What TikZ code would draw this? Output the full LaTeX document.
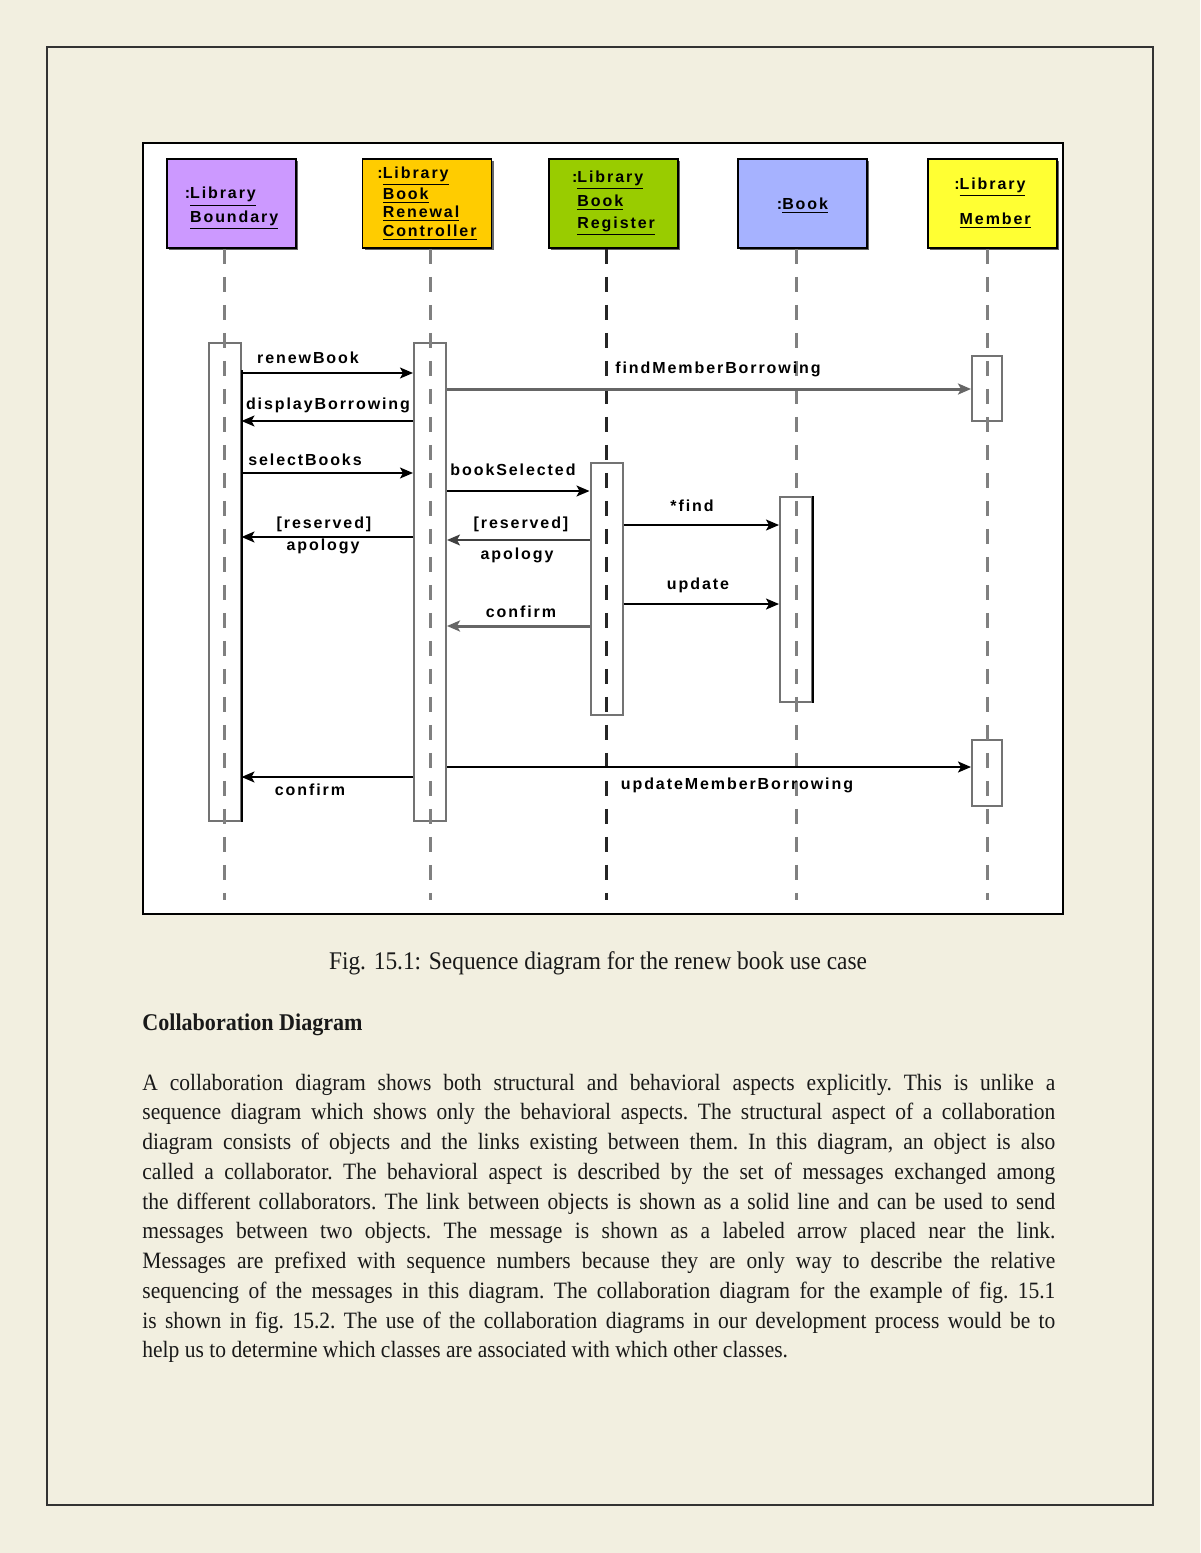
\documentclass[tikz,border=0pt]{standalone}
\usepackage{fontspec}
\setmainfont[FakeStretch=0.92]{Liberation Serif}
\newfontfamily\umlfont[LetterSpace=12]{Liberation Sans}
\usetikzlibrary{arrows.meta,shadows}

\definecolor{paper}{RGB}{242,239,224}
\definecolor{umlpurple}{RGB}{204,153,255}
\definecolor{umlgold}{RGB}{255,204,0}
\definecolor{umlgreen}{RGB}{153,204,0}
\definecolor{umlblue}{RGB}{166,178,255}
\definecolor{umlyellow}{RGB}{255,255,51}

\newcommand\fullline[1]{{\spaceskip=0pt\xspaceskip=0pt\makebox[456.5pt][s]{#1}}}

\tikzset{
  obj/.style={draw=black, line width=0.8pt, minimum width=64.5pt, minimum height=44.5pt,
    inner sep=0pt, align=left, font=\umlfont\bfseries\fontsize{8}{9.3}\selectfont,
    drop shadow={shadow xshift=1.2pt, shadow yshift=-1.2pt, fill=black, opacity=0.6}},
  act/.style={draw=black!55, line width=1pt, fill=white, minimum width=16pt, inner sep=0pt},
  life/.style={draw=black!50, line width=1.5pt, dash pattern=on 7.5pt off 6.5pt},
  msg/.style={-{Stealth[length=6.5pt,width=5.5pt,inset=1.5pt]}, line width=0.8pt},
  lbl/.style={font=\umlfont\bfseries\fontsize{8}{9}\selectfont, text=black, inner sep=0pt}
}

\begin{document}
\begin{tikzpicture}[x=0.5pt,y=-0.5pt]
  % page and frames
  \fill[paper] (0,0) rectangle (1200,1553);
  \draw[black!80, line width=0.8pt] (47,47) rectangle (1153,1505);
  \draw[fill=white, line width=1.2pt] (143,143) rectangle (1063,914);

  % objects
  \node[obj, fill=umlpurple] (oBnd) at (231.5,203.5)
    {\rule{0pt}{11pt}:\underline{Library}\\[1.4pt]\hphantom{:}\underline{Boundary}};
  \node[obj, fill=umlgold] (oCtl) at (427,203.5)
    {:\underline{Library}\\\hphantom{:}\underline{Book}\\\hphantom{:}\underline{Renewal}\\\hphantom{:}\underline{Controller}};
  \node[obj, fill=umlgreen] (oReg) at (613.5,203.5)
    {:\underline{Library}\\[1.6pt]\hphantom{:}\underline{Book}\\[1.6pt]\hphantom{:}\underline{Register}};
  \node[obj, fill=umlblue] (oBook) at (802.5,203.5) {\rule{0pt}{8.5pt}:\underline{Book}};
  \node[obj, fill=umlyellow] (oMem) at (992.5,203.5)
    {:\underline{Library}\\[7pt]\hphantom{:}\underline{Member}};

  % activations
  \node[act, minimum height=239pt] (aBnd) at (224.5,582) {};
  \node[act, minimum height=239pt] (aCtl) at (430,582) {};
  \node[act, minimum height=126pt] (aReg) at (606.5,589) {};
  \node[act, minimum height=102.5pt] (aBook) at (796,599.5) {};
  \node[act, minimum width=15pt, minimum height=32.5pt] (aMem1) at (987,388.5) {};
  \node[act, minimum width=15pt, minimum height=33pt] (aMem2) at (987,773) {};
  \draw[line width=1pt] (aBnd.east |- 0,370) -- (aBnd.south east);
  \draw[line width=1pt] (aBook.north east) -- (aBook.south east);

  % lifelines
  \coordinate (bot) at (0,900);
  \foreach \a/\o in {aBnd/oBnd, aCtl/oCtl, aBook/oBook, aMem1/oMem}
    \draw[life] (\a |- \o.south) -- (\a |- bot);
  \draw[life, draw=black!85, line width=1.3pt] (aReg |- oReg.south) -- (aReg |- bot);

  % y levels of the messages
  \foreach \n/\y in {renew/373, disp/421, sel/473, bsel/491, apo/537, apo2/540,
                     find/525, upd/604, conf/626, conf2/777, fmb/389, umb/767}
    \coordinate (y\n) at (0,\y);

  % messages
  \draw[msg] (aBnd.east |- yrenew) -- (aCtl.west |- yrenew);
  \draw[msg] (aCtl.west |- ydisp) -- (aBnd.east |- ydisp);
  \draw[msg] (aBnd.east |- ysel) -- (aCtl.west |- ysel);
  \draw[msg] (aCtl.east |- ybsel) -- (aReg.west |- ybsel);
  \draw[msg] (aCtl.west |- yapo) -- (aBnd.east |- yapo);
  \draw[msg, draw=black!75] (aReg.west |- yapo2) -- (aCtl.east |- yapo2);
  \draw[msg] (aReg.east |- yfind) -- (aBook.west |- yfind);
  \draw[msg] (aReg.east |- yupd) -- (aBook.west |- yupd);
  \draw[msg, draw=black!60, line width=1.5pt] (aReg.west |- yconf) -- (aCtl.east |- yconf);
  \draw[msg] (aCtl.west |- yconf2) -- (aBnd.east |- yconf2);
  \draw[msg, draw=black!60, line width=1.5pt] (aCtl.east |- yfmb) -- (aMem1.west |- yfmb);
  \draw[msg, line width=1.1pt] (aCtl.east |- yumb) -- (aMem2.west |- yumb);

  % message labels
  \node[lbl] (lRenew) at (308,358) {renewBook};
  \node[lbl] (lDisp) at (328,405) {displayBorrowing};
  \node[lbl] (lSel) at (305,460) {selectBooks};
  \node[lbl] (lBsel) at (513,470) {bookSelected};
  \node[lbl] (lRes) at (324,524) {[reserved]};
  \node[lbl] (lApo) at (323,546) {apology};
  \node[lbl] (lRes2) at (521,524) {[reserved]};
  \node[lbl] (lApo2) at (517,555) {apology};
  \node[lbl] (lFind) at (692,506) {*find};
  \node[lbl] (lUpd) at (698,585) {update};
  \node[lbl] (lConf) at (521,612) {confirm};
  \node[lbl] (lConf2) at (310,790) {confirm};
  \node[lbl] (lFmb) at (718,369) {findMemberBorrowing};
  \node[lbl] (lUmb) at (737,785) {updateMemberBorrowing};

  % caption and text
  \node[anchor=base, inner sep=0pt, font=\fontsize{12.7}{14}\selectfont, text=black!90] (cap) at (598,969)
    {Fig. 15.1: Sequence diagram for the renew book use case};
  \node[anchor=base west, inner sep=0pt, font=\bfseries\fontsize{12}{14}\selectfont, text=black!90] (head) at (142,1030)
    {Collaboration Diagram};
  \node[anchor=north west, inner sep=0pt, text width=456.5pt, align=justify, text=black!90,
        font=\frenchspacing\fontsize{11.7}{14.88}\selectfont] (para) at (142,1073.5) {%
    \fullline{A collaboration diagram shows both structural and behavioral aspects explicitly. This is unlike a}\\
    \fullline{sequence diagram which shows only the behavioral aspects. The structural aspect of a collaboration}\\
    \fullline{diagram consists of objects and the links existing between them. In this diagram, an object is also}\\
    \fullline{called a collaborator. The behavioral aspect is described by the set of messages exchanged among}\\
    \fullline{the different collaborators. The link between objects is shown as a solid line and can be used to send}\\
    \fullline{messages between two objects. The message is shown as a labeled arrow placed near the link.}\\
    \fullline{Messages are prefixed with sequence numbers because they are only way to describe the relative}\\
    \fullline{sequencing of the messages in this diagram. The collaboration diagram for the example of fig. 15.1}\\
    \fullline{is shown in fig. 15.2. The use of the collaboration diagrams in our development process would be to}\\
    help us to determine which classes are associated with which other classes.};
\end{tikzpicture}
\end{document}
